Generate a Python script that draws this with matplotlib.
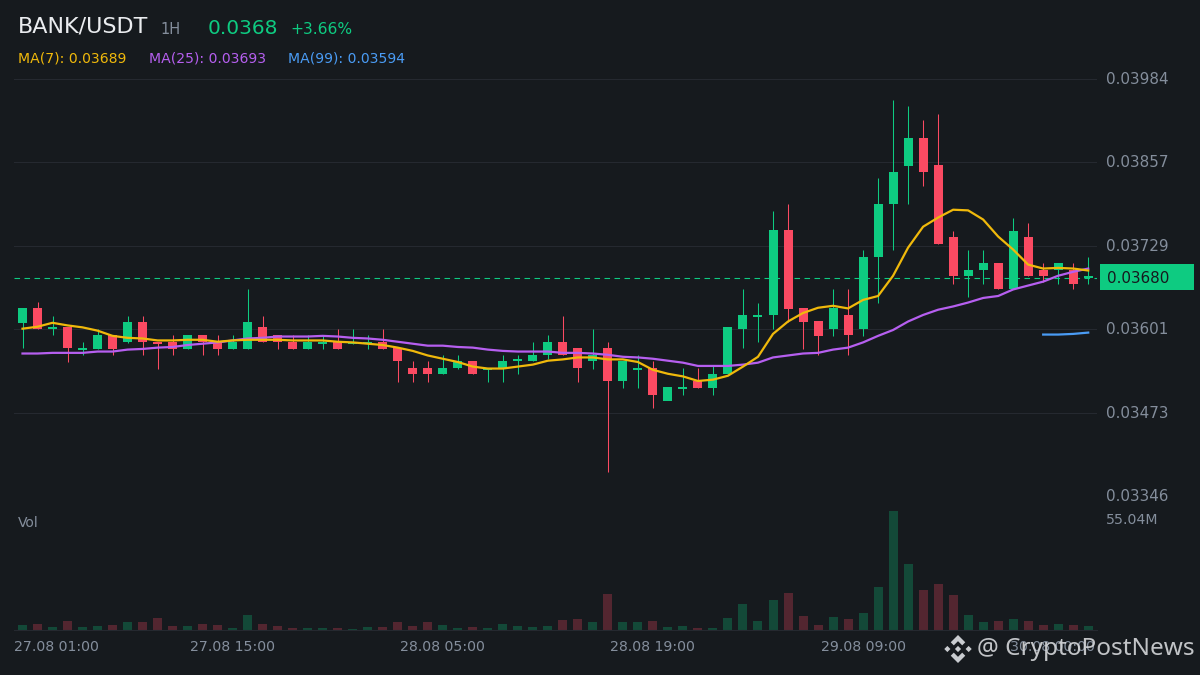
import matplotlib
matplotlib.use('Agg')
import matplotlib.pyplot as plt
from matplotlib.patches import Polygon, Rectangle

# price data, one value per hourly candle
opens = [3611, 3633, 3601, 3604, 3570, 3571, 3593, 3581, 3612, 3581, 3582, 3571, 3593, 3582, 3571, 3571, 3604, 3593, 3582, 3571, 3579, 3582, 3579, 3579, 3582, 3573, 3542, 3542, 3532, 3542, 3553, 3539, 3541, 3553, 3552, 3561, 3582, 3573, 3552, 3573, 3522, 3539, 3542, 3492, 3510, 3522, 3512, 3533, 3602, 3620, 3623, 3753, 3633, 3613, 3602, 3623, 3602, 3712, 3792, 3851, 3893, 3853, 3743, 3682, 3692, 3703, 3663, 3743, 3692, 3692, 3692, 3679]
closes = [3633, 3602, 3603, 3573, 3572, 3593, 3571, 3612, 3581, 3579, 3571, 3593, 3582, 3571, 3582, 3612, 3582, 3582, 3571, 3582, 3582, 3571, 3582, 3582, 3571, 3552, 3532, 3532, 3542, 3553, 3532, 3542, 3553, 3554, 3562, 3582, 3561, 3542, 3562, 3522, 3553, 3541, 3501, 3513, 3512, 3512, 3533, 3604, 3623, 3622, 3753, 3632, 3612, 3591, 3633, 3593, 3712, 3792, 3842, 3893, 3842, 3732, 3682, 3692, 3703, 3662, 3752, 3682, 3682, 3703, 3671, 3683]
highs = [3633, 3643, 3622, 3604, 3582, 3602, 3593, 3622, 3622, 3581, 3592, 3593, 3593, 3592, 3593, 3662, 3622, 3593, 3593, 3593, 3592, 3602, 3602, 3593, 3602, 3573, 3552, 3552, 3562, 3562, 3553, 3542, 3562, 3562, 3582, 3593, 3622, 3573, 3602, 3582, 3553, 3562, 3552, 3492, 3542, 3542, 3545, 3604, 3662, 3642, 3782, 3792, 3633, 3613, 3662, 3662, 3722, 3833, 3952, 3942, 3922, 3931, 3752, 3722, 3722, 3703, 3772, 3763, 3702, 3703, 3703, 3712]
lows = [3572, 3602, 3592, 3551, 3561, 3571, 3561, 3580, 3561, 3540, 3561, 3571, 3561, 3561, 3571, 3571, 3581, 3571, 3571, 3571, 3571, 3571, 3579, 3571, 3571, 3521, 3521, 3521, 3532, 3541, 3532, 3521, 3521, 3532, 3552, 3555, 3561, 3521, 3541, 3382, 3512, 3512, 3481, 3492, 3501, 3512, 3501, 3533, 3572, 3581, 3602, 3612, 3571, 3561, 3591, 3561, 3591, 3642, 3722, 3792, 3821, 3731, 3671, 3651, 3671, 3662, 3663, 3682, 3674, 3671, 3662, 3671]
volumes = [2.3, 2.8, 1.4, 4.2, 1.4, 1.9, 2.3, 3.7, 3.7, 5.6, 1.9, 1.9, 2.8, 2.3, 0.9, 7.0, 2.8, 1.9, 0.9, 0.9, 0.9, 0.9, 0.5, 1.4, 1.4, 3.7, 1.9, 3.7, 2.3, 0.9, 1.4, 0.9, 2.8, 1.9, 1.4, 1.9, 4.7, 5.1, 3.7, 16.8, 3.7, 3.7, 4.2, 1.4, 1.9, 0.9, 0.9, 5.6, 12.1, 4.2, 14.0, 17.3, 6.5, 2.3, 6.1, 5.1, 7.9, 20.1, 55.04, 30.3, 18.7, 21.5, 16.3, 7.0, 3.7, 4.2, 5.1, 4.2, 2.3, 2.8, 2.3, 1.9]
ma7 = [3602, 3605, 3611, 3607, 3604, 3599, 3591, 3588, 3587, 3584, 3584, 3585, 3585, 3582, 3584, 3585, 3585, 3585, 3584, 3584, 3584, 3582, 3581, 3579, 3577, 3573, 3568, 3561, 3556, 3551, 3544, 3541, 3541, 3544, 3547, 3553, 3555, 3558, 3558, 3555, 3555, 3551, 3539, 3533, 3529, 3522, 3524, 3530, 3544, 3559, 3594, 3613, 3626, 3634, 3637, 3633, 3646, 3652, 3683, 3726, 3758, 3772, 3784, 3783, 3769, 3743, 3723, 3700, 3694, 3695, 3694, 3691]
ma25 = [3564, 3564, 3565, 3565, 3565, 3567, 3567, 3570, 3571, 3573, 3574, 3577, 3579, 3581, 3584, 3587, 3588, 3590, 3590, 3590, 3591, 3590, 3588, 3587, 3585, 3582, 3579, 3576, 3576, 3574, 3573, 3570, 3568, 3567, 3567, 3567, 3565, 3565, 3564, 3562, 3559, 3558, 3556, 3553, 3550, 3545, 3545, 3545, 3547, 3550, 3558, 3561, 3564, 3565, 3570, 3573, 3581, 3591, 3600, 3613, 3623, 3631, 3636, 3642, 3649, 3652, 3662, 3668, 3674, 3683, 3689, 3694]
ma99 = [3593, 3593, 3594, 3596]
ma99_start = 68

y_ticks = [0.03984, 0.03857, 0.03729, 0.03601, 0.03473, 0.03346]
y_labels = ['0.03984', '0.03857', '0.03729', '0.03601', '0.03473', '0.03346']
x_ticks = [0, 14, 28, 42, 56, 70]
x_labels = ['27.08 01:00', '27.08 15:00', '28.08 05:00', '28.08 19:00', '29.08 09:00', '30.08 00:00']
last_price = 0.03680

BG = '#161a1e'
GREEN = '#0ecb81'
RED = '#fb4a62'
GRID = '#252930'
GREY = '#848e9c'
plt.rcParams['font.family'] = ['DejaVu Sans']


def price(values):
    return [v / 100000 for v in values]


W, H = 1200, 675
fig = plt.figure(figsize=(12, 6.75), dpi=100, facecolor=BG)


def px_axes(left, top, right, bottom):
    return fig.add_axes([left / W, 1 - bottom / H, (right - left) / W, (bottom - top) / H])


x0, step = 22.5, 15.01
xlim = ((14 - x0) / step, (1097 - x0) / step)

ax = px_axes(14, 79, 1097, 496)
ax.set_facecolor('none')
ax.set_xlim(xlim)
ax.set_ylim(0.03346, 0.03984)
for s in ax.spines.values():
    s.set_visible(False)
ax.set_xticks([])
ax.set_yticks(y_ticks)
ax.tick_params(length=0, labelleft=False)
ax.grid(axis='y', color=GRID, lw=0.8)
ax.set_axisbelow(True)

o, c, h, l = price(opens), price(closes), price(highs), price(lows)
xs = list(range(len(o)))
colors = [GREEN if cl >= op else RED for op, cl in zip(o, c)]
ax.vlines(xs, l, h, colors=colors, lw=0.75, zorder=2)
body = [max(abs(cl - op), 0.00003) for op, cl in zip(o, c)]
ax.bar(xs, body, bottom=[min(a, b) for a, b in zip(o, c)], width=9 / step, color=colors, zorder=3)

ax.axhline(last_price, color=GREEN, lw=0.8, dashes=(5, 4), zorder=2.5)
ax.plot(xs, price(ma25), color='#b65ff0', lw=1.6, zorder=4)
ax.plot(xs, price(ma7), color='#f0b90b', lw=1.6, zorder=5)
ax.plot(xs[ma99_start:], price(ma99), color='#4a9cf5', lw=1.6, zorder=4)

vax = px_axes(14, 511, 1097, 630)
vax.set_facecolor('none')
vax.set_xlim(xlim)
vax.set_ylim(0, 55.04)
for name, s in vax.spines.items():
    s.set_visible(name == 'bottom')
vax.spines['bottom'].set_color(GRID)
vax.set_yticks([])
vax.bar(xs, volumes, width=9 / step, color=colors, alpha=0.27, lw=0)

# first and last labels are pushed inside the chart, so their ticks move to the edges
tick_pos = list(x_ticks)
tick_pos[0] = xlim[0]
tick_pos[-1] = (1095 - x0) / step
vax.set_xticks(tick_pos)
vax.set_xticklabels(x_labels, color=GREY, fontsize=10.2)
vax.tick_params(axis='x', length=0, pad=7.5)
vax.get_xticklabels()[0].set_ha('left')
vax.get_xticklabels()[-1].set_ha('right')


# text is placed in pixels from the top left corner
def txt(x, y, s, **kw):
    kw.setdefault('va', 'center')
    return fig.text(x / W, 1 - y / H, s, **kw)


txt(18, 27, 'BANK/USDT', color='#eaecef', fontsize=16)
txt(160.5, 30, '1H', color=GREY, fontsize=10.5)
txt(208, 28, '0.0368', color=GREEN, fontsize=14.5)
txt(290, 29, '+3.66%', color=GREEN, fontsize=11.2)
txt(18, 58, 'MA(7): 0.03689', color='#f0b90b', fontsize=10.1)
txt(149, 58, 'MA(25): 0.03693', color='#b65ff0', fontsize=10.1)
txt(288, 58, 'MA(99): 0.03594', color='#4a9cf5', fontsize=10.1)
txt(18, 523, 'Vol', color=GREY, fontsize=10)
txt(1106, 520, '55.04M', color=GREY, fontsize=10.2)
for tick, label in zip(y_ticks, y_labels):
    y_px = 79 + (0.03984 - tick) / (0.03984 - 0.03346) * (496 - 79)
    txt(1106, y_px + 0.5, label, color=GREY, fontsize=10.9)

fig.add_artist(Rectangle((1100 / W, 1 - 290 / H), 94 / W, 26 / H, transform=fig.transFigure, color=GREEN, lw=0))
txt(1107, 278, '0.03680', color='#16191e', fontsize=10.9)


# watermark logo
def logo_part(pts, cx=958, cy=649, r=14, col='#c9ccd0'):
    verts = [((cx + a * r) / W, 1 - (cy - b * r) / H) for a, b in pts]
    fig.add_artist(Polygon(verts, closed=True, transform=fig.transFigure, color=col, lw=0, zorder=10))


def small_diamond(a, b, s=0.22):
    return [(a - s, b), (a, b + s), (a + s, b), (a, b - s)]


logo_part(small_diamond(0, 0))
logo_part(small_diamond(-0.76, 0))
logo_part(small_diamond(0.76, 0))
logo_part([(0, 1), (0.52, 0.48), (0.3, 0.26), (0, 0.56), (-0.3, 0.26), (-0.52, 0.48)])
logo_part([(0, -1), (0.52, -0.48), (0.3, -0.26), (0, -0.56), (-0.3, -0.26), (-0.52, -0.48)])
txt(977, 649, '@ CryptoPostNews', color='#d5d7da', fontsize=17.5, alpha=0.9, zorder=10, family='Noto Sans')

fig.savefig('out.png', dpi=100, facecolor=BG)
